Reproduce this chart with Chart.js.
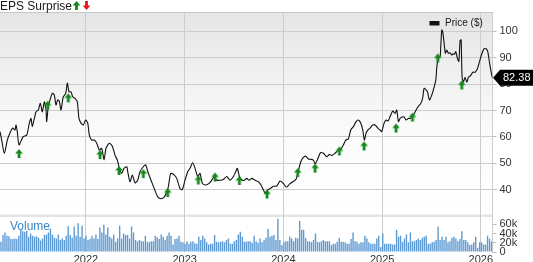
<!DOCTYPE html>
<html><head><meta charset="utf-8">
<style>html,body{margin:0;padding:0;background:#fff;overflow:hidden}#wrap{position:relative;width:533px;height:262px}</style>
<script src="https://cdn.jsdelivr.net/npm/chart.js@4/dist/chart.umd.min.js"></script>
</head><body><div id="wrap"><canvas id="c" width="533" height="262"></canvas></div>
<script>
// ---------- DATA ----------
const priceDates = [2021.129,2021.146,2021.173,2021.203,2021.230,2021.258,2021.281,2021.291,2021.304,2021.322,2021.362,2021.400,2021.426,2021.443,2021.456,2021.477,2021.494,2021.517,2021.537,2021.558,2021.578,2021.595,2021.602,2021.618,2021.636,2021.659,2021.679,2021.696,2021.714,2021.730,2021.747,2021.770,2021.795,2021.811,2021.828,2021.848,2021.866,2021.889,2021.912,2021.929,2021.950,2021.973,2021.997,2022.018,2022.034,2022.058,2022.084,2022.109,2022.135,2022.159,2022.183,2022.203,2022.236,2022.267,2022.294,2022.317,2022.338,2022.362,2022.385,2022.413,2022.423,2022.446,2022.469,2022.497,2022.524,2022.547,2022.581,2022.605,2022.626,2022.659,2022.692,2022.727,2022.760,2022.794,2022.818,2022.834,2022.859,2022.892,2022.919,2022.953,2022.976,2023.003,2023.031,2023.054,2023.081,2023.105,2023.132,2023.155,2023.179,2023.213,2023.247,2023.274,2023.300,2023.325,2023.358,2023.391,2023.426,2023.459,2023.493,2023.517,2023.533,2023.554,2023.578,2023.604,2023.629,2023.652,2023.679,2023.713,2023.746,2023.773,2023.797,2023.819,2023.841,2023.865,2023.898,2023.933,2023.966,2023.999,2024.030,2024.062,2024.095,2024.128,2024.151,2024.176,2024.196,2024.226,2024.253,2024.280,2024.303,2024.321,2024.344,2024.376,2024.405,2024.439,2024.465,2024.493,2024.523,2024.557,2024.584,2024.607,2024.632,2024.658,2024.682,2024.709,2024.736,2024.759,2024.784,2024.804,2024.820,2024.837,2024.855,2024.878,2024.905,2024.929,2024.956,2024.979,2024.996,2025.020,2025.040,2025.060,2025.080,2025.108,2025.131,2025.148,2025.165,2025.182,2025.202,2025.222,2025.243,2025.266,2025.283,2025.317,2025.344,2025.367,2025.392,2025.412,2025.425,2025.445,2025.460,2025.479,2025.503,2025.519,2025.544,2025.554,2025.570,2025.587,2025.594,2025.604,2025.614,2025.628,2025.641,2025.655,2025.671,2025.688,2025.706,2025.719,2025.732,2025.746,2025.762,2025.777,2025.790,2025.800,2025.810,2025.823,2025.840,2025.858,2025.874,2025.898,2025.918,2025.942,2025.965,2025.985,2026.010,2026.033,2026.053,2026.070,2026.087,2026.101,2026.117];
const prices = [62,58.8,53.8,58.8,61.5,63.4,62.6,64.5,62,57,60,60.7,65.2,67,63.9,67,69.5,70.2,72.7,69.5,73.3,70.2,65.8,71.6,74,76.5,75.9,72.1,74,73.5,70.2,75.2,76.5,80.4,77.1,77.1,75.2,74.6,73.3,67,65.2,64.5,66.4,65.2,60.7,58.8,58.8,57.6,55,55.7,51.3,55.7,57.6,56.5,53.1,51.3,48.1,46.2,48.1,48.7,46.8,43,45.6,42.6,43.6,46.8,48.7,49.4,46.8,43.6,40.4,37.3,36.6,37.3,39.2,41.1,46.2,45.6,44.3,40.4,40.1,43.6,46.8,48.1,50.2,48.1,45,46.2,42.4,41.8,42.4,43.6,45,43.6,43.6,43.9,45,43.6,45,46.8,48.1,45,43.6,43.6,44.3,43.6,44.3,43.6,43,41.8,39.9,38.5,39.9,40.4,41.3,41.4,43.3,42.4,41,42.1,43,44,47,50.6,52,52.7,51.6,51.5,51.2,49.8,51.3,54,53.8,52.5,53.3,53,53.8,55,55.5,56.9,58.8,59.2,62.6,63.9,65.8,66.4,65.2,62.6,58.8,61.4,62.6,63.3,64.5,64.5,63.3,62.6,62,65.2,66.4,66,67.6,69.8,68.9,70.2,65.8,67,67.5,67.6,66.4,67,67,68.3,70.2,71.6,72.7,75,78.4,77.8,77,74,75.9,77.8,81.6,86.6,89.8,90.4,94.2,100.5,99.8,95.4,91.7,92.9,91.7,91.9,91,91.5,91.3,92.3,89.8,88.6,96.5,96.8,82.6,80.7,82.6,80.7,82.6,83.3,84.5,84.5,85.8,88.3,91.5,93.4,93.4,92.3,88.3,85.2,82.38];

const epsDates = [2021.322,2021.612,2021.821,2022.142,2022.335,2022.581,2022.828,2023.138,2023.307,2023.554,2023.834,2024.145,2024.321,2024.567,2024.817,2025.141,2025.307,2025.564,2025.807];
const epsLevels = [55.4,73.7,76.5,55.0,49.0,47.8,40.6,45.4,46.5,45.2,40.1,48.2,49.9,56.4,58.3,65.1,69.2,91.6,81.4];

// weekly volume, thousands of shares
const volumesK = [22,37,42,35,34,28,28,29,28,35,48,45,44,46,33,40,35,33,34,31,25,29,37,38,42,51,38,31,29,38,26,29,26,35,56,37,31,55,35,62,33,57,29,35,26,28,35,29,38,28,53,42,59,38,53,33,29,38,22,29,57,29,40,
 37,37,29,55,42,26,23,26,23,23,35,22,21,23,23,35,32,28,38,33,26,35,42,35,16,28,29,35,22,21,18,23,18,22,23,19,18,33,26,35,29,21,16,18,18,37,22,21,22,23,21,26,29,18,18,23,26,38,44,33,22,22,
 23,23,20,35,23,20,29,21,26,31,50,33,35,37,26,72,26,15,21,23,23,33,29,23,31,29,67,48,48,31,23,23,21,26,40,22,21,23,26,23,23,23,15,18,18,22,31,22,22,21,18,18,28,42,23,22,18,21,21,35,29,21,
 18,18,18,29,35,11,40,18,18,18,18,16,16,48,33,35,22,29,38,21,42,23,23,26,29,26,31,33,35,18,18,21,22,26,55,26,33,26,33,21,23,31,33,29,23,28,45,26,26,21,15,16,21,33,9,21,21,16,16,35,29,23];

const yearTicks = [2022,2023,2024,2025,2026];
const priceTicks = [40,50,60,70,80,90,100];
const volumeTicks = [0,20,40,60];
const volumeTickLabels = ['0','20k','40k','60k'];

// ---------- CHART ----------
const X_MIN = 2021.129, X_MAX = 2026.118;
const FONT = 'Liberation Sans, Arial, Helvetica, sans-serif';
Chart.defaults.font.family = FONT;

function drawArrow(c, cx, tipY, color, up) {
  c.fillStyle = color;
  c.beginPath();
  const d = up ? 1 : -1;
  c.moveTo(cx, tipY);
  c.lineTo(cx + 3.8, tipY + d * 4.5);
  c.lineTo(cx + 1.4, tipY + d * 4.5);
  c.lineTo(cx + 1.4, tipY + d * 9);
  c.lineTo(cx - 1.4, tipY + d * 9);
  c.lineTo(cx - 1.4, tipY + d * 4.5);
  c.lineTo(cx - 3.8, tipY + d * 4.5);
  c.closePath();
  c.fill();
}
const arrowImg = document.createElement('canvas');
arrowImg.width = 10; arrowImg.height = 22;
drawArrow(arrowImg.getContext('2d'), 5, 11, '#13891a', true);

const priceData = priceDates.map((d, i) => ({x: d, y: prices[i]}));
const epsData = epsDates.map((d, i) => ({x: d, y: epsLevels[i]}));
const step = (X_MAX - X_MIN) / volumesK.length;
const volData = volumesK.map((v, i) => ({x: X_MIN + (i + 0.5) * step, y: v}));

const bgPlugin = {
  id: 'bg',
  beforeDraw(chart) {
    const c = chart.ctx, a = chart.chartArea, y = chart.scales.y;
    c.save();
    const g = c.createLinearGradient(0, y.top, 0, y.bottom);
    g.addColorStop(0, '#e5e5e5');
    g.addColorStop(0.6, '#fbfbfb');
    g.addColorStop(1, '#ffffff');
    c.fillStyle = g;
    c.fillRect(a.left, y.top, a.right - a.left, y.bottom - y.top);
    c.fillStyle = '#e3e3e3';
    c.fillRect(a.left, y.bottom - 1, a.right - a.left, 2.5);
    c.restore();
  }
};

const overlayPlugin = {
  id: 'overlay',
  afterDraw(chart) {
    const c = chart.ctx, a = chart.chartArea, y = chart.scales.y;
    c.save();
    // top border
    c.strokeStyle = '#c8c8c8'; c.lineWidth = 1;
    c.beginPath(); c.moveTo(a.left, a.top + 0.5); c.lineTo(a.right, a.top + 0.5); c.stroke();
    // title
    c.fillStyle = '#1a1a1a';
    c.font = '12px ' + FONT;
    c.textBaseline = 'alphabetic'; c.textAlign = 'left';
    c.fillText('EPS Surprise', 0, 10);
    const tw = c.measureText('EPS Surprise').width;
    drawArrow(c, tw + 4.5, 1, '#13891a', true);
    drawArrow(c, tw + 14.5, 10, '#e8141b', false);
    // legend
    c.fillStyle = '#111';
    c.fillRect(429.5, 21, 10, 4.5);
    c.font = '10px ' + FONT;
    c.textBaseline = 'middle';
    c.fillStyle = '#1a1a1a';
    c.fillText('Price ($)', 445, 23.5);
    // volume label
    c.font = '12px ' + FONT;
    c.fillStyle = '#3b86c6';
    c.textBaseline = 'alphabetic';
    c.fillText('Volume', 10, 230);
    // last price flag
    const last = prices[prices.length - 1];
    const py = y.getPixelForValue(last);
    const x0 = a.right + 0.5;
    c.fillStyle = '#000';
    c.beginPath();
    c.moveTo(x0, py);
    c.lineTo(x0 + 7, py - 8);
    c.lineTo(533, py - 8);
    c.lineTo(533, py + 8);
    c.lineTo(x0 + 7, py + 8);
    c.closePath(); c.fill();
    c.fillStyle = '#fff';
    c.font = '11px ' + FONT;
    c.textBaseline = 'middle';
    c.fillText(last.toFixed(2), x0 + 10, py + 0.5);
    c.restore();
  }
};

new Chart(document.getElementById('c'), {
  type: 'line',
  data: {
    datasets: [
      { type: 'scatter', label: 'EPS Surprise', data: epsData, xAxisID: 'x', yAxisID: 'y',
        pointStyle: arrowImg, pointRadius: 5, order: 1, clip: false },
      { type: 'line', label: 'Price ($)', data: priceData, xAxisID: 'x', yAxisID: 'y',
        borderColor: '#111', borderWidth: 1.1, pointRadius: 0, tension: 0.25, order: 2 },
      { type: 'bar', label: 'Volume', data: volData, xAxisID: 'x', yAxisID: 'yv',
        backgroundColor: '#5d9ad3', barPercentage: 1, categoryPercentage: 0.7, order: 3 }
    ]
  },
  options: {
    responsive: false, animation: false, events: [],
    layout: { autoPadding: false, padding: { top: 12, left: 0, right: 0, bottom: 0 } },
    plugins: { legend: { display: false }, tooltip: { enabled: false }, title: { display: false } },
    scales: {
      x: {
        type: 'linear', min: X_MIN, max: X_MAX, position: 'bottom', offset: false,
        afterBuildTicks: s => { s.ticks = yearTicks.map(v => ({ value: v })); },
        afterFit: s => { s.height = 10; s.paddingLeft = 0; s.paddingRight = 0; },
        ticks: { callback: v => String(v), font: { size: 11 }, color: '#333', padding: 1, maxRotation: 0, autoSkip: false },
        grid: { color: '#cccccc', drawTicks: false, tickLength: 0, offset: false },
        border: { display: false }
      },
      y: {
        type: 'linear', position: 'right', stack: 'panels', stackWeight: 203.5, weight: 1,
        min: 30.23, max: 107.31,
        afterBuildTicks: s => { s.ticks = priceTicks.map(v => ({ value: v })); },
        afterFit: s => { s.width = 40.5; },
        ticks: { font: { size: 11 }, color: '#333', padding: 3, autoSkip: false },
        grid: { color: '#cccccc', tickLength: 4, tickColor: '#bbbbbb' },
        border: { display: true, color: '#cccccc' }
      },
      yv: {
        type: 'linear', position: 'right', stack: 'panels', stackWeight: 36.5, weight: 2,
        min: 0, max: 79,
        afterBuildTicks: s => { s.ticks = volumeTicks.map(v => ({ value: v })); },
        afterFit: s => { s.width = 40.5; },
        ticks: { font: { size: 11 }, color: '#333', padding: 3, autoSkip: false,
                 callback: v => volumeTickLabels[volumeTicks.indexOf(v)] },
        grid: { drawOnChartArea: false, tickLength: 4, tickColor: '#bbbbbb' },
        border: { display: true, color: '#cccccc' }
      }
    }
  },
  plugins: [bgPlugin, overlayPlugin]
});
</script></body></html>
